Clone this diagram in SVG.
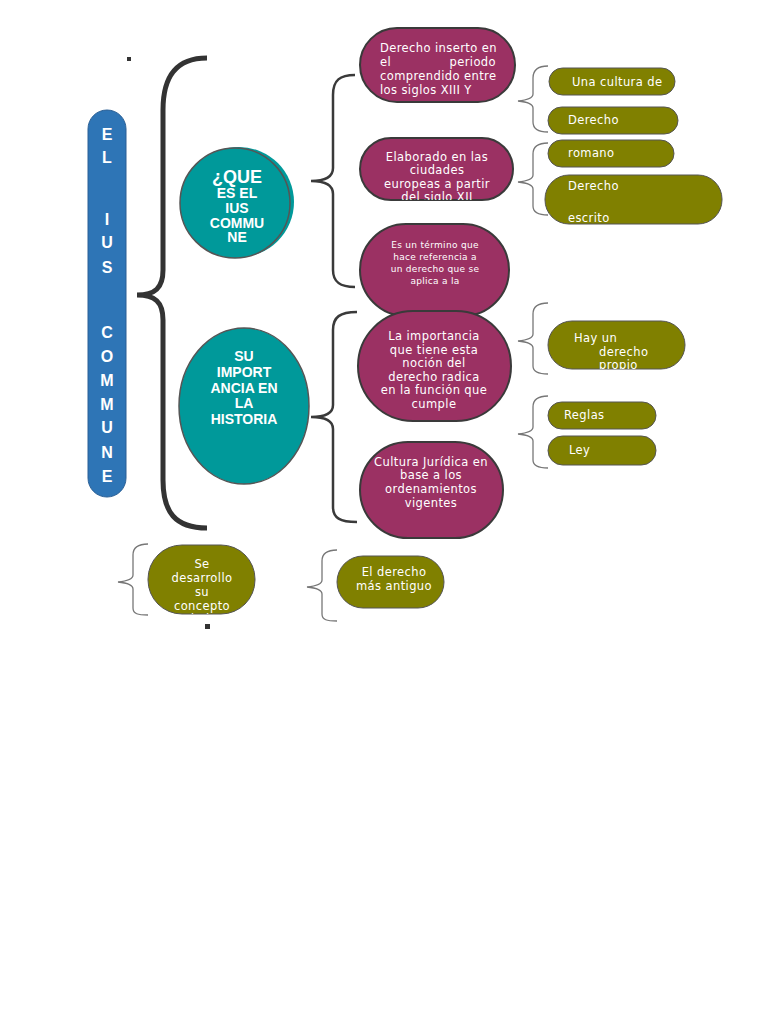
<svg xmlns="http://www.w3.org/2000/svg" width="768" height="1024" viewBox="0 0 768 1024">
<style>
.bb{fill:none;stroke:#333;stroke-width:5}
.mb{fill:none;stroke:#3a3a3a;stroke-width:2.5}
.sb{fill:none;stroke:#777;stroke-width:1.3}
.mag{fill:#9B3163;stroke:#3a3a3a;stroke-width:2}
.ol{fill:#808000;stroke:#555;stroke-width:1}
.t{font-family:"DejaVu Sans",sans-serif;fill:#fff;font-size:11.5px;letter-spacing:0.4px}
.tb{font-family:"Liberation Sans",Arial,sans-serif;font-weight:bold;fill:#fff;font-size:14px;text-anchor:middle}
.c{text-anchor:middle}
</style>
<defs>
<clipPath id="c2"><rect x="360" y="138" width="153" height="62" rx="31"/></clipPath>
<clipPath id="c3"><rect x="545" y="175" width="177" height="49" rx="24"/></clipPath>
<clipPath id="c4"><rect x="548" y="321" width="137" height="48" rx="24"/></clipPath>
<clipPath id="c5"><rect x="148" y="545" width="107" height="69" rx="34"/></clipPath>
</defs>
<rect x="127" y="57" width="4" height="4" fill="#333"/>
<rect x="205" y="624" width="5" height="5" fill="#333"/>
<g id="connectors">
<path class="bb" d="M207,58 C175,58 163,78 163,110 L163,270 C163,288 155,295 137,295 C155,295 163,302 163,320 L163,480 C163,512 175,528 207,528"/>
<path class="mb" d="M355,75 C340,75 333,80 333,95 L333,168 C333,177 325,181 311,181 C325,181 333,185 333,194 L333,270 C333,282 340,287 355,287"/>
<path class="mb" d="M357,312 C340,312 333,317 333,330 L333,405 C333,413 325,417 311,417 C325,417 333,421 333,429 L333,507 C333,518 340,522 357,522"/>
<path class="sb" d="M548,66 C538,66 533,70 533,78 L533,94 C533,98 528,100 518,101 C528,102 533,104 533,108 L533,122 C533,128 538,132 548,132"/>
<path class="sb" d="M548,143 C538,143 533,146 533,154 L533,175 C533,179 528,181 518,182 C528,183 533,185 533,189 L533,206 C533,212 538,215 548,215"/>
<path class="sb" d="M548,303 C538,303 533,306 533,314 L533,334 C533,338 528,340 518,341 C528,342 533,344 533,348 L533,366 C533,372 538,374 548,374"/>
<path class="sb" d="M548,396 C538,396 533,399 533,407 L533,427 C533,431 528,433 518,434 C528,435 533,437 533,441 L533,460 C533,466 538,468 548,468"/>
<path class="sb" d="M148,544 C138,544 133,547 133,555 L133,575 C133,579 128,581 118,582 C128,583 133,585 133,589 L133,608 C133,614 138,615 148,615"/>
<path class="sb" d="M337,550 C327,550 322,553 322,561 L322,580 C322,584 317,586 307,587 C317,588 322,590 322,594 L322,614 C322,620 327,621 337,621"/>
</g>
<g id="title">
<rect x="88" y="110" width="38" height="387" rx="19" fill="#2E75B6" stroke="#2a5f95"/>
<g class="tb" style="font-size:16px">
<text x="107" y="140">E</text><text x="107" y="163">L</text>
<text x="107" y="225">I</text><text x="107" y="248">U</text><text x="107" y="273">S</text>
<text x="107" y="338">C</text><text x="107" y="362">O</text><text x="107" y="386">M</text><text x="107" y="410">M</text><text x="107" y="433">U</text><text x="107" y="458">N</text><text x="107" y="482">E</text>
</g>
</g>
<g id="que">
<ellipse cx="239" cy="202" rx="55" ry="55" fill="#00999A"/>
<ellipse cx="235" cy="203" rx="55" ry="55" fill="#00999A" stroke="#555" stroke-width="1.5"/>
<text class="tb" x="237" y="183" style="font-size:18px">¿QUE</text>
<text class="tb" x="237" y="198">ES EL</text>
<text class="tb" x="237" y="213">IUS</text>
<text class="tb" x="237" y="228">COMMU</text>
<text class="tb" x="237" y="242">NE</text>
</g>
<g id="importancia">
<ellipse cx="244" cy="406" rx="65" ry="78" fill="#00999A" stroke="#555" stroke-width="1.5"/>
<text class="tb" x="244" y="361">SU</text>
<text class="tb" x="244" y="377">IMPORT</text>
<text class="tb" x="244" y="393">ANCIA EN</text>
<text class="tb" x="244" y="408">LA</text>
<text class="tb" x="244" y="424">HISTORIA</text>
</g>
<g id="m1">
<rect class="mag" x="360" y="28" width="155" height="74" rx="37"/>
<g class="t"><text x="380" y="52">Derecho inserto en</text><text x="380" y="66">el</text><text x="496" y="66" text-anchor="end">periodo</text><text x="380" y="80">comprendido entre</text><text x="380" y="94">los siglos XIII Y</text></g>
</g>
<g id="m2">
<rect class="mag" x="360" y="138" width="153" height="62" rx="31"/>
<g class="t c" clip-path="url(#c2)"><text x="437" y="161">Elaborado en las</text><text x="437" y="174">ciudades</text><text x="437" y="188">europeas a partir</text><text x="437" y="201">del siglo XII</text></g>
</g>
<g id="m3">
<rect class="mag" x="360" y="224" width="149" height="92" rx="46"/>
<g class="t c" style="font-size:9px;letter-spacing:0.3px"><text x="435" y="248">Es un término que</text><text x="435" y="260">hace referencia a</text><text x="435" y="272">un derecho que se</text><text x="435" y="284">aplica a la</text></g>
</g>
<g id="m4">
<rect class="mag" x="358" y="311" width="153" height="110" rx="55"/>
<g class="t c"><text x="434" y="340">La importancia</text><text x="434" y="354">que tiene esta</text><text x="434" y="367">noción del</text><text x="434" y="381">derecho radica</text><text x="434" y="394">en la función que</text><text x="434" y="408">cumple</text></g>
</g>
<g id="m5">
<rect class="mag" x="360" y="442" width="143" height="96" rx="48"/>
<g class="t c"><text x="431" y="466">Cultura Jurídica en</text><text x="431" y="479">base a los</text><text x="431" y="493">ordenamientos</text><text x="431" y="507">vigentes</text></g>
</g>
<g id="o1"><rect class="ol" x="549" y="68" width="126" height="27" rx="13.5"/><text class="t" x="572" y="86">Una cultura de</text></g>
<g id="o2"><rect class="ol" x="548" y="107" width="130" height="27" rx="13.5"/><text class="t" x="568" y="124">Derecho</text></g>
<g id="o3"><rect class="ol" x="548" y="140" width="126" height="27" rx="13.5"/><text class="t" x="568" y="157">romano</text></g>
<g id="o4"><rect class="ol" x="545" y="175" width="177" height="49" rx="24"/><g class="t" clip-path="url(#c3)"><text x="568" y="190">Derecho</text><text x="568" y="222">escrito</text></g></g>
<g id="o5"><rect class="ol" x="548" y="321" width="137" height="48" rx="24"/><g class="t" clip-path="url(#c4)"><text x="574" y="342">Hay un</text><text x="599" y="356">derecho</text><text x="599" y="369">propio</text></g></g>
<g id="o6"><rect class="ol" x="548" y="402" width="108" height="27" rx="13.5"/><text class="t" x="564" y="419">Reglas</text></g>
<g id="o7"><rect class="ol" x="548" y="436" width="108" height="29" rx="14.5"/><text class="t" x="569" y="454">Ley</text></g>
<g id="o8"><rect class="ol" x="148" y="545" width="107" height="69" rx="34"/><g class="t c" clip-path="url(#c5)"><text x="202" y="568">Se</text><text x="202" y="582">desarrollo</text><text x="202" y="596">su</text><text x="202" y="610">concepto</text><text x="202" y="623">de la</text></g></g>
<g id="o9"><rect class="ol" x="337" y="556" width="107" height="52" rx="26"/><g class="t c"><text x="394" y="576">El derecho</text><text x="394" y="590">más antiguo</text></g></g>
</svg>
